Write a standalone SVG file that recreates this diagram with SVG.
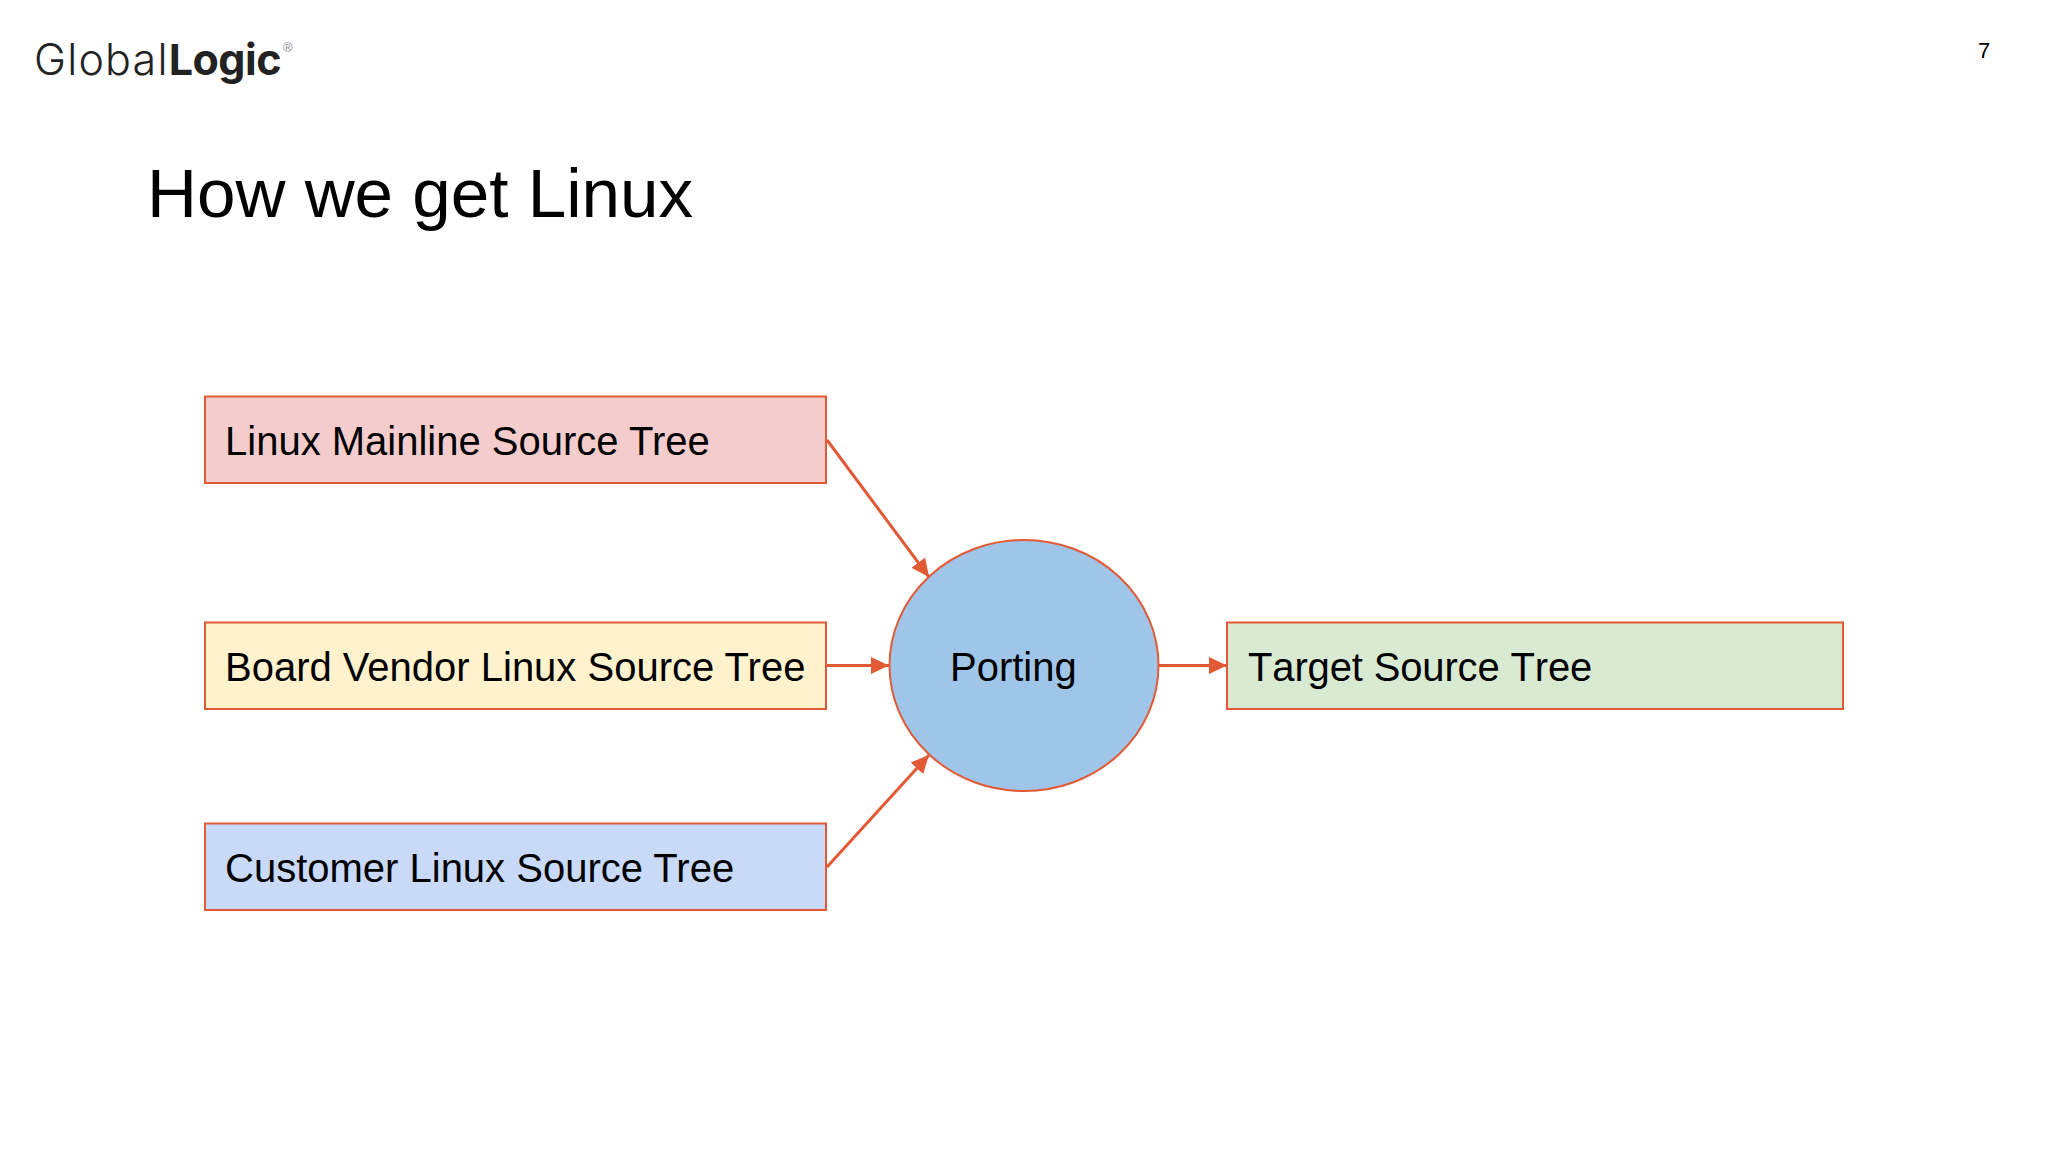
<svg xmlns="http://www.w3.org/2000/svg" width="2048" height="1152" viewBox="0 0 2048 1152">
<style>
text{font-family:"Liberation Sans",Arial,sans-serif;fill:#000}
.box{stroke:#e25a35;stroke-width:2}
.lbl{font-size:40px}
.conn{stroke:#e25a35;stroke-width:3;fill:none;marker-end:url(#arr)}
</style>
<defs><marker id="arr" markerUnits="userSpaceOnUse" markerWidth="20" markerHeight="20" refX="18" refY="10" orient="auto"><path d="M0 1.500L18 10L0 18.500Z" fill="#e25a35"/></marker></defs>
<rect width="2048" height="1152" fill="#fff"/>
<g id="logo"><text x="34" y="75" font-size="43" style="font-family:Inter,sans-serif;fill:#222"><tspan font-weight="300" letter-spacing="1.2">Global</tspan><tspan font-weight="700" letter-spacing="-0.5">Logic</tspan></text><text x="283" y="52" font-size="13" style="fill:#888">®</text></g>
<text id="page" x="1978" y="58" font-size="22">7</text>
<text id="title" x="147" y="216.500" font-size="69.200">How we get Linux</text>
<g id="connectors">
<line class="conn" x1="827" y1="440" x2="929" y2="577"/>
<line class="conn" x1="827" y1="665.5" x2="889" y2="665.5"/>
<line class="conn" x1="827" y1="867" x2="929" y2="755"/>
<line class="conn" x1="1159" y1="665.5" x2="1227" y2="665.5"/>
</g>
<g id="mainline"><rect class="box" x="205" y="396.500" width="621" height="86.500" fill="#f4cccc"/><text class="lbl" x="225" y="455">Linux Mainline Source Tree</text></g>
<g id="vendor"><rect class="box" x="205" y="622.500" width="621" height="86.500" fill="#fff2cc"/><text class="lbl" x="225" y="681">Board Vendor Linux Source Tree</text></g>
<g id="customer"><rect class="box" x="205" y="823.500" width="621" height="86.500" fill="#c9daf8"/><text class="lbl" x="225" y="882">Customer Linux Source Tree</text></g>
<g id="porting"><ellipse class="box" cx="1024" cy="665.500" rx="134.500" ry="125.500" fill="#9fc5e8"/><text class="lbl" x="950" y="681">Porting</text></g>
<g id="target"><rect class="box" x="1227" y="622.500" width="616" height="86.500" fill="#d9ead3"/><text class="lbl" x="1248" y="681" style="font-kerning:none" letter-spacing="-0.15">Target Source Tree</text></g>
</svg>
